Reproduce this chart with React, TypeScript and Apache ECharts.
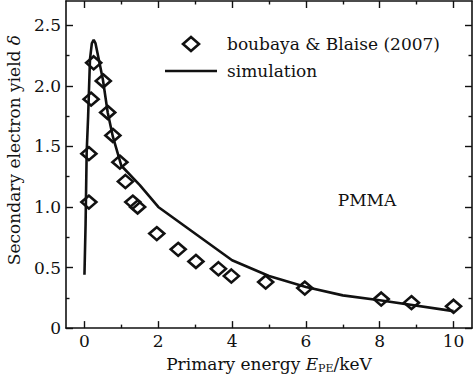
import React, { useEffect, useRef } from "react";
import * as echarts from "echarts";

const expX = [0.12, 0.12, 0.18, 0.25, 0.51, 0.63, 0.77, 0.96, 1.11, 1.31, 1.44, 1.96, 2.54, 3.02, 3.63, 3.98, 4.91, 5.97, 8.04, 8.86, 10.0];
const expY = [1.04, 1.44, 1.89, 2.19, 2.04, 1.78, 1.59, 1.37, 1.21, 1.04, 1.0, 0.78, 0.65, 0.55, 0.49, 0.43, 0.38, 0.33, 0.24, 0.21, 0.18];

const simX = [0, 0.03, 0.06, 0.1, 0.15, 0.2, 0.25, 0.3, 0.4, 0.5, 0.63, 0.77, 1.0, 1.5, 2, 4, 5, 6, 7, 8, 10];
const simY = [0.44, 0.85, 1.45, 1.75, 2.22, 2.35, 2.38, 2.35, 2.2, 2.05, 1.78, 1.58, 1.34, 1.18, 1.0, 0.56, 0.43, 0.34, 0.27, 0.23, 0.14];

const xLabels = [0, 2, 4, 6, 8, 10];
const xMinor = [1, 3, 5, 7, 9];
const yLabels = [0, 0.5, 1, 1.5, 2, 2.5];
const yMinor = [0.25, 0.75, 1.25, 1.75, 2.25];

const FONT = "DejaVu Serif";
const INK = "#111";

export default function App() {
  const ref = useRef<HTMLDivElement>(null);
  useEffect(() => {
    if (!ref.current) return;
    const chart = echarts.init(ref.current, null, { renderer: "svg" });
    const xMin = -0.5, xMax = 10.5, yMin = 0, yMax = 2.7;
    const axisBase = (pos: string, ticks: number[], len: number, showLine: boolean, labels?: number[]) => ({
      type: "value",
      position: pos,
      min: pos === "bottom" || pos === "top" ? xMin : yMin,
      max: pos === "bottom" || pos === "top" ? xMax : yMax,
      axisLine: { show: showLine, onZero: false, lineStyle: { color: INK, width: 1.6 } },
      axisTick: { show: true, inside: true, length: len, customValues: ticks, lineStyle: { color: INK, width: 1.4 } },
      axisLabel: labels
        ? {
            show: true,
            customValues: labels,
            color: INK,
            fontFamily: FONT,
            fontSize: 17,
            margin: pos === "left" ? 5 : 4,
            formatter: (v: number) => (v === 0 ? "0" : pos === "left" ? v.toFixed(1) : String(v)),
          }
        : { show: false },
      splitLine: { show: false },
    });
    const x0: any = axisBase("bottom", xLabels, 7, true, xLabels);
    x0.name = "Primary energy {i|E}{sub|PE}/keV";
    x0.nameLocation = "middle";
    x0.nameGap = 17;
    x0.nameTextStyle = {
      color: INK,
      fontFamily: FONT,
      fontSize: 17,
      lineHeight: 20,
      rich: {
        i: { fontStyle: "italic", fontFamily: FONT, fontSize: 17, color: INK, lineHeight: 20 },
        sub: { fontFamily: FONT, fontSize: 11, color: INK, padding: [9, 0, 0, 0], lineHeight: 20 },
      },
    };
    const y0: any = axisBase("left", yLabels, 7, true, yLabels);
    chart.setOption({
      animation: false,
      backgroundColor: "#fff",
      grid: { left: 66, right: 2, top: 1, bottom: 49, containLabel: false },
      xAxis: [
        x0,
        axisBase("bottom", xMinor, 3.5, false),
        axisBase("top", xLabels, 7, true),
        axisBase("top", xMinor, 3.5, false),
      ],
      yAxis: [
        y0,
        axisBase("left", yMinor, 3.5, false),
        axisBase("right", yLabels, 7, true),
        axisBase("right", yMinor, 3.5, false),
      ],
      legend: {
        orient: "vertical",
        left: 165,
        top: 35,
        padding: 0,
        itemWidth: 52,
        itemHeight: 14,
        itemGap: 9,
        symbolKeepAspect: true,
        textStyle: { fontFamily: FONT, fontSize: 17, color: INK, lineHeight: 18, padding: [0, 0, 0, 5] },
        data: [
          {
            name: "boubaya & Blaise (2007)",
            icon: "path://M8,0L16,7L8,14L0,7Z",
            itemStyle: { color: "rgba(255,255,255,0)", borderColor: INK, borderWidth: 2.6, opacity: 1 },
          },
          {
            name: "simulation",
            icon: "path://M0,0H52V2.6H0Z",
            itemStyle: { color: INK, borderWidth: 0, opacity: 1 },
          },
        ],
      },
      graphic: [
        {
          type: "text",
          x: 14,
          y: 150,
          rotation: Math.PI / 2,
          style: {
            text: "Secondary electron yield {i|δ}",
            fontFamily: FONT,
            fontSize: 17,
            fill: INK,
            align: "center",
            verticalAlign: "middle",
            rich: { i: { fontStyle: "italic", fontFamily: FONT, fontSize: 17, fill: INK } },
          },
        },
        {
          type: "text",
          x: 367,
          y: 200,
          style: { text: "PMMA", fontFamily: FONT, fontSize: 17, fill: INK, align: "center", verticalAlign: "middle" },
        },
      ],
      series: [
        {
          name: "simulation",
          type: "line",
          xAxisIndex: 0,
          yAxisIndex: 0,
          symbol: "none",
          lineStyle: { color: INK, width: 2.6 },
          itemStyle: { color: INK },
          data: simX.map((x, i) => [x, simY[i]]),
          z: 2,
        },
        {
          name: "boubaya & Blaise (2007)",
          type: "scatter",
          xAxisIndex: 0,
          yAxisIndex: 0,
          symbol: "diamond",
          symbolSize: [15, 13],
          itemStyle: { color: "rgba(255,255,255,0)", borderColor: INK, borderWidth: 2.6, opacity: 1 },
          data: expX.map((x, i) => [x, expY[i]]),
          z: 3,
        },
      ],
    });
    return () => chart.dispose();
  }, []);
  return <div ref={ref} style={{ position: "absolute", left: 0, top: 0, width: 474, height: 379 }} />;
}
